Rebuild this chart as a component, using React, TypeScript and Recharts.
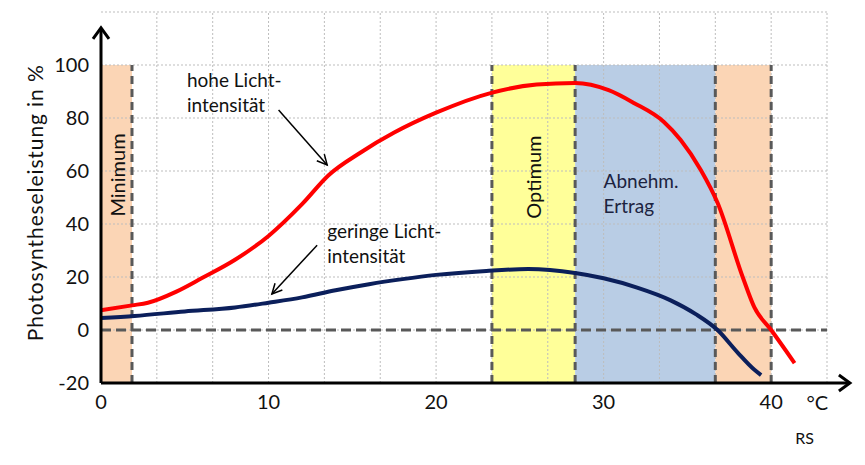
import React from "react";
import {
  LineChart,
  Line,
  XAxis,
  YAxis,
  ReferenceArea,
  ReferenceLine,
  ReferenceDot,
} from "recharts";

// temperature (°C) and photosynthesis (%)
const highX = [0, 1.85, 2.8, 4.5, 6, 8, 10, 12, 13.6, 15.5, 17.5, 20, 23.3, 26, 28.3, 30.3, 31.8, 33.6, 34.6, 35.8, 36.8, 38.3, 39, 40, 41.4];
const highY = [7.5, 9.3, 10.3, 14.5, 19.5, 26.5, 35.5, 47.5, 58.5, 67, 74.5, 82, 89.5, 92.6, 93.2, 90.5, 85.7, 78.5, 71.7, 60.4, 48, 20, 8.5, 0, -12.5];

const lowX = [0, 2, 5, 8, 10, 12, 14, 16, 18, 20, 23, 25.5, 28.3, 30, 32, 34, 35.5, 36.8, 38, 39, 39.4];
const lowY = [4.5, 5.3, 7, 8.5, 10.3, 12.3, 15, 17.3, 19.2, 20.8, 22.3, 23, 21.5, 19.5, 16, 11.2, 6, 0, -8.5, -15, -17];

const xTicks = [0, 10, 20, 30, 40];
const yTicks = [-20, 0, 20, 40, 60, 80, 100];
const gridX = [3.333, 6.667, 10, 13.333, 16.667, 20, 23.333, 26.667, 30, 33.333, 36.667, 40, 43.333];
const gridY = [0, 20, 40, 60, 80, 100, 120];

const minimumZone = [0, 1.85];
const optimumZone = [23.333, 28.3];
const declineZone = [28.3, 36.667];
const maximumZone = [36.667, 40];
const zoneBorders = [1.85, 23.333, 28.3, 36.667, 40];

const highData = highX.map((x, i) => ({ x, v: highY[i] }));
const lowData = lowX.map((x, i) => ({ x, v: lowY[i] }));

const FONT = "Lato, 'Open Sans', sans-serif";

const arrow = (head: number, half: number, width: number) => (p: any) => {
  const { x1, y1, x2, y2 } = p;
  const a = Math.atan2(y2 - y1, x2 - x1);
  const bx = x2 - head * Math.cos(a);
  const by = y2 - head * Math.sin(a);
  const nx = -Math.sin(a) * half;
  const ny = Math.cos(a) * half;
  return (
    <g>
      <line x1={x1} y1={y1} x2={x2} y2={y2} stroke="#000" strokeWidth={width} />
      <polyline
        points={`${bx + nx},${by + ny} ${x2},${y2} ${bx - nx},${by - ny}`}
        fill="none"
        stroke="#000"
        strokeWidth={width}
      />
    </g>
  );
};

const note = (lines: string[], color = "#111", size = 19) => (p: any) => (
  <text x={p.cx} y={p.cy} fontSize={size} fill={color} fontFamily={FONT}>
    {lines.map((l, i) => (
      <tspan key={i} x={p.cx} dy={i === 0 ? "0.35em" : 25}>
        {l}
      </tspan>
    ))}
  </text>
);

const vertical = (label: string, dx = 0, size = 19, spacing = 0) => (p: any) => (
  <text
    x={p.cx + dx}
    y={p.cy}
    transform={`rotate(-90 ${p.cx + dx} ${p.cy})`}
    textAnchor="middle"
    dominantBaseline="central"
    fontSize={size}
    letterSpacing={spacing}
    fill="#111"
    fontFamily={FONT}
  >
    {label}
  </text>
);

const centered = (label: string, dy: number, size: number) => (p: any) => (
  <text
    x={p.cx}
    y={p.cy + dy}
    textAnchor="middle"
    dominantBaseline="central"
    fontSize={size}
    fill="#111"
    fontFamily={FONT}
  >
    {label}
  </text>
);

export default function App() {
  return (
    <div style={{ fontFamily: FONT }}>
      <LineChart
        width={849}
        height={445}
        margin={{ top: 4, right: 30, bottom: 30, left: 0 }}
      >
        <XAxis
          dataKey="x"
          type="number"
          domain={[0, 43.333]}
          ticks={xTicks}
          allowDataOverflow
          axisLine={false}
          tickLine={false}
          tickSize={0}
          tickMargin={12}
          height={40}
          tick={{ fontSize: 20, fill: "#111" }}
        />
        <YAxis
          type="number"
          domain={[-20, 120]}
          ticks={yTicks}
          allowDataOverflow
          axisLine={false}
          tickLine={false}
          tickSize={0}
          tickMargin={12}
          width={93}
          tick={{ fontSize: 20, fill: "#111" }}
        />

        <ReferenceArea x1={minimumZone[0]} x2={minimumZone[1]} y1={-20} y2={100} fill="#FBD5B5" fillOpacity={1} />
        <ReferenceArea x1={optimumZone[0]} x2={optimumZone[1]} y1={-20} y2={100} fill="#FFFF99" fillOpacity={1} />
        <ReferenceArea x1={declineZone[0]} x2={declineZone[1]} y1={-20} y2={100} fill="#B9CDE5" fillOpacity={1} />
        <ReferenceArea x1={maximumZone[0]} x2={maximumZone[1]} y1={-20} y2={100} fill="#FBD5B5" fillOpacity={1} />

        {gridX.map((x) => (
          <ReferenceLine key={"gx" + x} x={x} stroke="#BDBDBD" strokeDasharray="2 2" />
        ))}
        {gridY.map((y) => (
          <ReferenceLine key={"gy" + y} y={y} stroke="#BDBDBD" strokeDasharray="2 2" />
        ))}

        <ReferenceLine y={0} stroke="#595959" strokeWidth={3} strokeDasharray="10 5" />
        {zoneBorders.map((x) => (
          <ReferenceLine
            key={"b" + x}
            segment={[{ x, y: -20 }, { x, y: 100 }]}
            stroke="#595959"
            strokeWidth={3}
            strokeDasharray="8 5"
          />
        ))}

        <Line data={highData} dataKey="v" type="monotone" stroke="#FF0000" strokeWidth={4} dot={false} isAnimationActive={false} />
        <Line data={lowData} dataKey="v" type="monotone" stroke="#0B1F5B" strokeWidth={4} dot={false} isAnimationActive={false} />

        {/* axes with arrow heads */}
        <ReferenceLine segment={[{ x: 0, y: -20 }, { x: 0, y: 114 }]} ifOverflow="visible" shape={arrow(11, 8, 3)} />
        <ReferenceLine segment={[{ x: 0, y: -20 }, { x: 44.7, y: -20 }]} ifOverflow="visible" shape={arrow(11, 8, 3)} />

        {/* annotation arrows */}
        <ReferenceLine segment={[{ x: 10.6, y: 83 }, { x: 13.5, y: 62.3 }]} shape={arrow(10, 5, 1.5)} />
        <ReferenceLine segment={[{ x: 12.9, y: 32 }, { x: 10.2, y: 13.6 }]} shape={arrow(10, 5, 1.5)} />

        <ReferenceDot x={5.13} y={94.3} r={0} shape={note(["hohe Licht-", "intensität"])} />
        <ReferenceDot x={13.5} y={37.4} r={0} shape={note(["geringe Licht-", "intensität"])} />
        <ReferenceDot x={30} y={56.2} r={0} shape={note(["Abnehm.", "Ertrag"], "#1C2340")} />
        <ReferenceDot x={0.93} y={58.5} r={0} shape={vertical("Minimum", 0, 20)} />
        <ReferenceDot x={25.8} y={57.7} r={0} shape={vertical("Optimum", 0, 20)} />
        <ReferenceDot x={0} y={48} r={0} shape={vertical("Photosyntheseleistung  in %", -66, 21, 0.9)} />
        <ReferenceDot x={42.75} y={-20} r={0} ifOverflow="visible" shape={centered("°C", 19, 20)} />
        <ReferenceDot x={42} y={-20} r={0} ifOverflow="visible" shape={centered("RS", 54, 16)} />
      </LineChart>
    </div>
  );
}
